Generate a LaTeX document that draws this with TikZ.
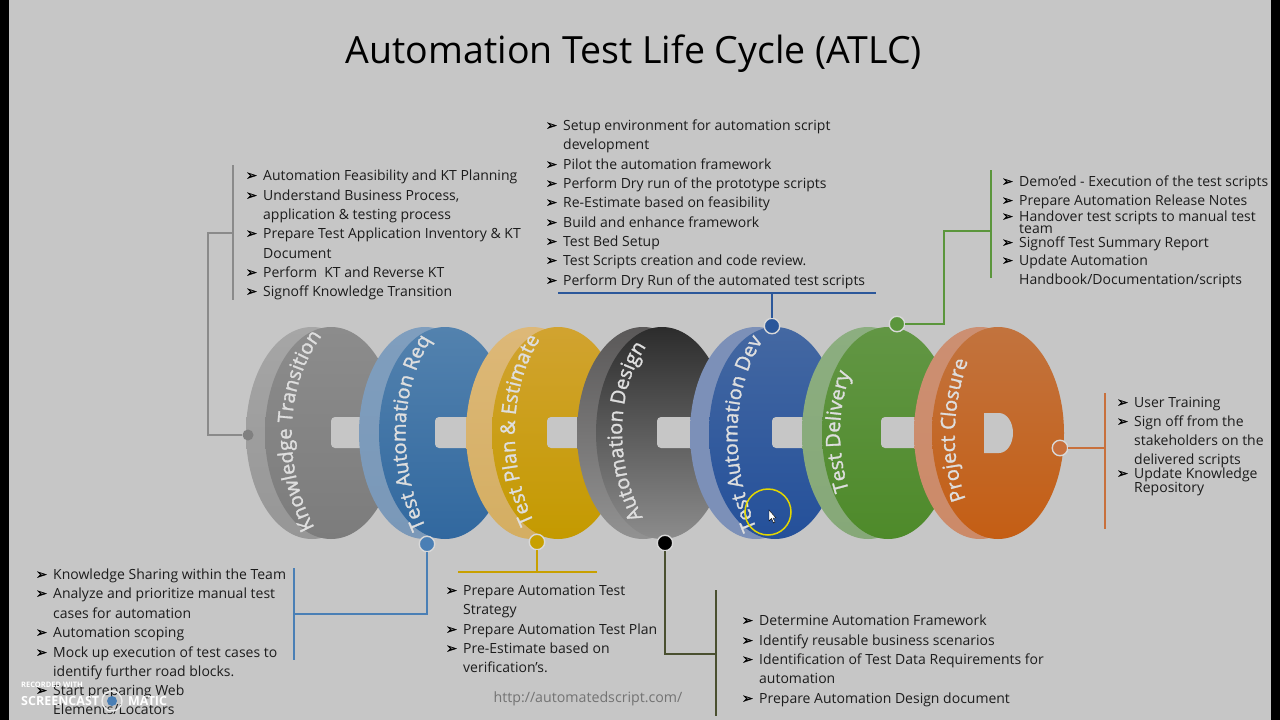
\documentclass[tikz,border=0pt]{standalone}
\usepackage{fontspec}
\setmainfont{Open Sans}
\newfontfamily\bulfont[FakeBold=0.6]{DejaVu Sans}
\newfontfamily\dfont[FakeBold=1.4]{Open Sans}
\usetikzlibrary{decorations.text,shadings}
\definecolor{bg}{HTML}{C6C6C6}
\definecolor{ink}{HTML}{1C1C1C}
\definecolor{cK}{HTML}{8A8A8A}
\definecolor{cR}{HTML}{4A7FB5}
\definecolor{cP}{HTML}{C8A000}
\definecolor{cA}{HTML}{4A5030}
\definecolor{cD}{HTML}{2B579A}
\definecolor{cG}{HTML}{5B963C}
\definecolor{cO}{HTML}{C8703C}
\definecolor{ring}{HTML}{D8D8D8}
\definecolor{dtxt}{HTML}{DEDEDE}
\definecolor{aft}{HTML}{2C2C2C}\definecolor{afm}{HTML}{424242}\definecolor{afb}{HTML}{8C8C8C}
\definecolor{art}{HTML}{5A5858}\definecolor{arm}{HTML}{626060}\definecolor{arb}{HTML}{929292}
\tikzset{
 lbl/.style={anchor=base west,inner sep=0pt,text=ink,font=\fontsize{14}{14}\selectfont},
 bul/.style={anchor=base west,inner sep=0pt,text=black,font=\bulfont\fontsize{14}{14}\selectfont},
 conn/.style={line width=1.2pt},
 dot/.style={circle,minimum size=15.5pt,inner sep=0pt,draw=ring,line width=1.4pt,fill=#1},
 face/.style={x radius=66,y radius=106},
}
\newcounter{li}
\newcommand{\li}[3]{\stepcounter{li}\node[lbl] (ln\theli) at (#1,#2+5) {#3};}
\newcommand{\bl}[3]{\stepcounter{li}\node[bul] (bu\theli) at (#1-17.5,#2+5) {➢};\node[lbl] (ln\theli) at (#1,#2+5) {#3};}
\newcommand{\disc}[7]{%
 \definecolor{ft}{HTML}{#3}\definecolor{fb}{HTML}{#4}\definecolor{rt}{HTML}{#5}\definecolor{rb}{HTML}{#6}%
 \shade[top color=rt,bottom color=rb] (#1-#2,433) ellipse[face];
 \shade[top color=ft,bottom color=fb] (#1,433) ellipse[face];
 #7
}
\newcommand{\hole}[1]{\fill[bg,rounded corners=4pt] (#1,417) rectangle (#1+60,448);}
\newcommand{\dtf}{\dfont\fontsize{20}{20}\selectfont\color{dtxt}}
\newcommand{\dtext}[5]{\path[decorate,decoration={text along path,text align=center,text={|\dtf|#1}}] (#2) .. controls (#3) and (#4) .. (#5);}
\begin{document}
\begin{tikzpicture}[x=1pt,y=-1pt]
\useasboundingbox (0,0) rectangle (1280,720);
\fill[bg] (0,0) rectangle (1280,720);
\fill[black] (0,0) rectangle (9,720);
\fill[black] (1271,0) rectangle (1280,720);
\node[inner sep=0pt,text=black,font=\fontsize{37.5}{37.5}\selectfont] (title) at (634,54) {Automation Test Life Cycle (ATLC)};

% discs
\disc{331}{19}{8C8C8C}{7C7C7C}{A6A6A6}{969696}{\hole{331}}
\disc{445}{20}{5382AE}{31689F}{7F9EBE}{7A98B8}{\hole{435}}
\disc{558}{26}{D1A330}{C49A00}{DDB878}{D4AE62}{\hole{547}}
\shade[top color=art,middle color=arm,bottom color=arb] (643,433) ellipse[face];
\shade[top color=aft,middle color=afm,bottom color=afb] (662,433) ellipse[face];
\hole{657}
\disc{775}{19}{4468A2}{24509A}{7C90B8}{7C90B8}{\hole{772}}
\disc{888}{20}{629644}{4E8A2A}{8CAE80}{86A878}{\hole{881}}
\disc{998}{18}{C2733E}{C45E14}{CC8F72}{CC8A68}{%
 \fill[bg] (984,413) -- (999,413) arc[start angle=-90,end angle=90,x radius=14,y radius=20] -- (984,453) -- cycle;}

% disc titles
\dtext{Knowledge Transition}{317,532}{282,470}{282,385}{325,332}
\dtext{Test Automation Req}{431,538}{396,470}{396,385}{438,330}
\dtext{Test Plan {\&} Estimate}{538,530}{506,470}{506,385}{545,332}
\dtext{Automation Design}{650,530}{612,470}{612,385}{655,335}
\dtext{Test Automation Dev}{762,540}{728,470}{728,385}{770,330}
\dtext{Test Delivery}{851,497}{836,450}{836,410}{853,367}
\dtext{Project Closure}{968,505}{950,460}{950,410}{970,355}

% dots
\node[dot=gray,minimum size=11pt,draw=none] (dk) at (248,435) {};
\node[dot=cR] (dtar) at (427,544) {};
\node[dot=cP] (dtpe) at (537,542) {};
\node[dot=black] (dad) at (665,543) {};
\node[dot=cD] (dtad) at (772,326) {};
\node[dot=cG] (dtd) at (897,324) {};
\node[dot=cO] (dpc) at (1060,448) {};

% connector ends
\coordinate (ka) at (233,233); \coordinate (kt) at (233,165); \coordinate (kb) at (233,300);
\coordinate (ta) at (294,614); \coordinate (tt) at (294,568); \coordinate (tb) at (294,660);
\coordinate (pa) at (537,572); \coordinate (pl) at (458,572); \coordinate (pr) at (597,572);
\coordinate (aa) at (716,654); \coordinate (at) at (716,590); \coordinate (ab) at (716,716);
\coordinate (da) at (772,293); \coordinate (dl) at (558,293); \coordinate (dr) at (876,293);
\coordinate (ga) at (991,231); \coordinate (gt) at (991,170); \coordinate (gb) at (991,278);
\coordinate (oa) at (1105,448); \coordinate (ot) at (1105,393); \coordinate (ob) at (1105,529);

\begin{scope}[conn]
\draw[color=cK] (dk.west) -- (208,435) |- (ka); \draw[color=cK] (kt) -- (kb);
\draw[color=cR] (dtar.south) |- (ta); \draw[color=cR] (tt) -- (tb);
\draw[color=cP] (dtpe.south) -- (pa); \draw[color=cP] (pl) -- (pr);
\draw[color=cA] (dad.south) |- (aa); \draw[color=cA] (at) -- (ab);
\draw[color=cD] (dtad.north) -- (da); \draw[color=cD] (dl) -- (dr);
\draw[color=cG] (dtd.east) -- (944,324) |- (ga); \draw[color=cG] (gt) -- (gb);
\draw[color=cO] (dpc.east) -- (oa); \draw[color=cO] (ot) -- (ob);
\end{scope}

% lists
\bl{263}{175}{Automation Feasibility and KT Planning}
\bl{263}{195}{Understand Business Process,}
\li{263}{214}{application \& testing process}
\bl{263}{233}{Prepare Test Application Inventory \& KT}
\li{263}{253}{Document}
\bl{263}{272}{Perform\ \ KT and Reverse KT}
\bl{263}{291}{Signoff Knowledge Transition}

\bl{563}{125}{Setup environment for automation script}
\li{563}{144}{development}
\bl{563}{164}{Pilot the automation framework}
\bl{563}{183}{Perform Dry run of the prototype scripts}
\bl{563}{202}{Re-Estimate based on feasibility}
\bl{563}{222}{Build and enhance framework}
\bl{563}{241}{Test Bed Setup}
\bl{563}{260}{Test Scripts creation and code review.}
\bl{563}{280}{Perform Dry Run of the automated test scripts}

\bl{1019}{181}{Demo'ed - Execution of the test scripts}
\bl{1019}{200}{Prepare Automation Release Notes}
\bl{1019}{216}{Handover test scripts to manual test}
\li{1019}{228}{team}
\bl{1019}{242}{Signoff Test Summary Report}
\bl{1019}{260}{Update Automation}
\li{1019}{279}{Handbook/Documentation/scripts}

\bl{1134}{402}{User Training}
\bl{1134}{421}{Sign off from the}
\li{1134}{440}{stakeholders on the}
\li{1134}{459}{delivered scripts}
\bl{1134}{473}{Update Knowledge}
\li{1134}{487}{Repository}

\bl{53}{574}{Knowledge Sharing within the Team}
\bl{53}{593}{Analyze and prioritize manual test}
\li{53}{613}{cases for automation}
\bl{53}{632}{Automation scoping}
\bl{53}{652}{Mock up execution of test cases to}
\li{53}{671}{identify further road blocks.}
\bl{53}{690}{Start preparing Web}
\li{53}{709}{Elements/Locators}

\bl{463}{590}{Prepare Automation Test}
\li{463}{609}{Strategy}
\bl{463}{629}{Prepare Automation Test Plan}
\bl{463}{648}{Pre-Estimate based on}
\li{463}{667}{verification's.}

\bl{759}{620}{Determine Automation Framework}
\bl{759}{640}{Identify reusable business scenarios}
\bl{759}{659}{Identification of Test Data Requirements for}
\li{759}{678}{automation}
\bl{759}{698}{Prepare Automation Design document}

\node[inner sep=0pt,text=black!55,font=\fontsize{14.2}{14.2}\selectfont] (url) at (588,698.5) {http://automatedscript.com/};

% cursor highlight
\draw[line width=1.5pt,color=yellow!75!olive] (768,512) circle[radius=23];
\fill[white,draw=black,line width=0.4pt] (769,510) -- (769,521) -- (771.5,518.5) -- (773.5,523) -- (775,522) -- (773,518) -- (776,518) -- cycle;

% watermark
\node[inner sep=0pt,text=white,font=\bfseries\fontsize{7.5}{7.5}\selectfont,anchor=west] (wm1) at (21,685) {RECORDED WITH};
\node[inner sep=0pt,text=white,font=\bfseries\fontsize{12.5}{12.5}\selectfont,anchor=west] (wm2) at (21,701) {SCREENCAST};
\node[inner sep=0pt,text=white,font=\bfseries\fontsize{12.5}{12.5}\selectfont,anchor=west] (wm3) at (128,701) {MATIC};
\draw[line width=1.5pt,color=white!85!gray] (112,701) circle[radius=10];
\fill[cR] (112,701) circle[radius=5];
\end{tikzpicture}
\end{document}
